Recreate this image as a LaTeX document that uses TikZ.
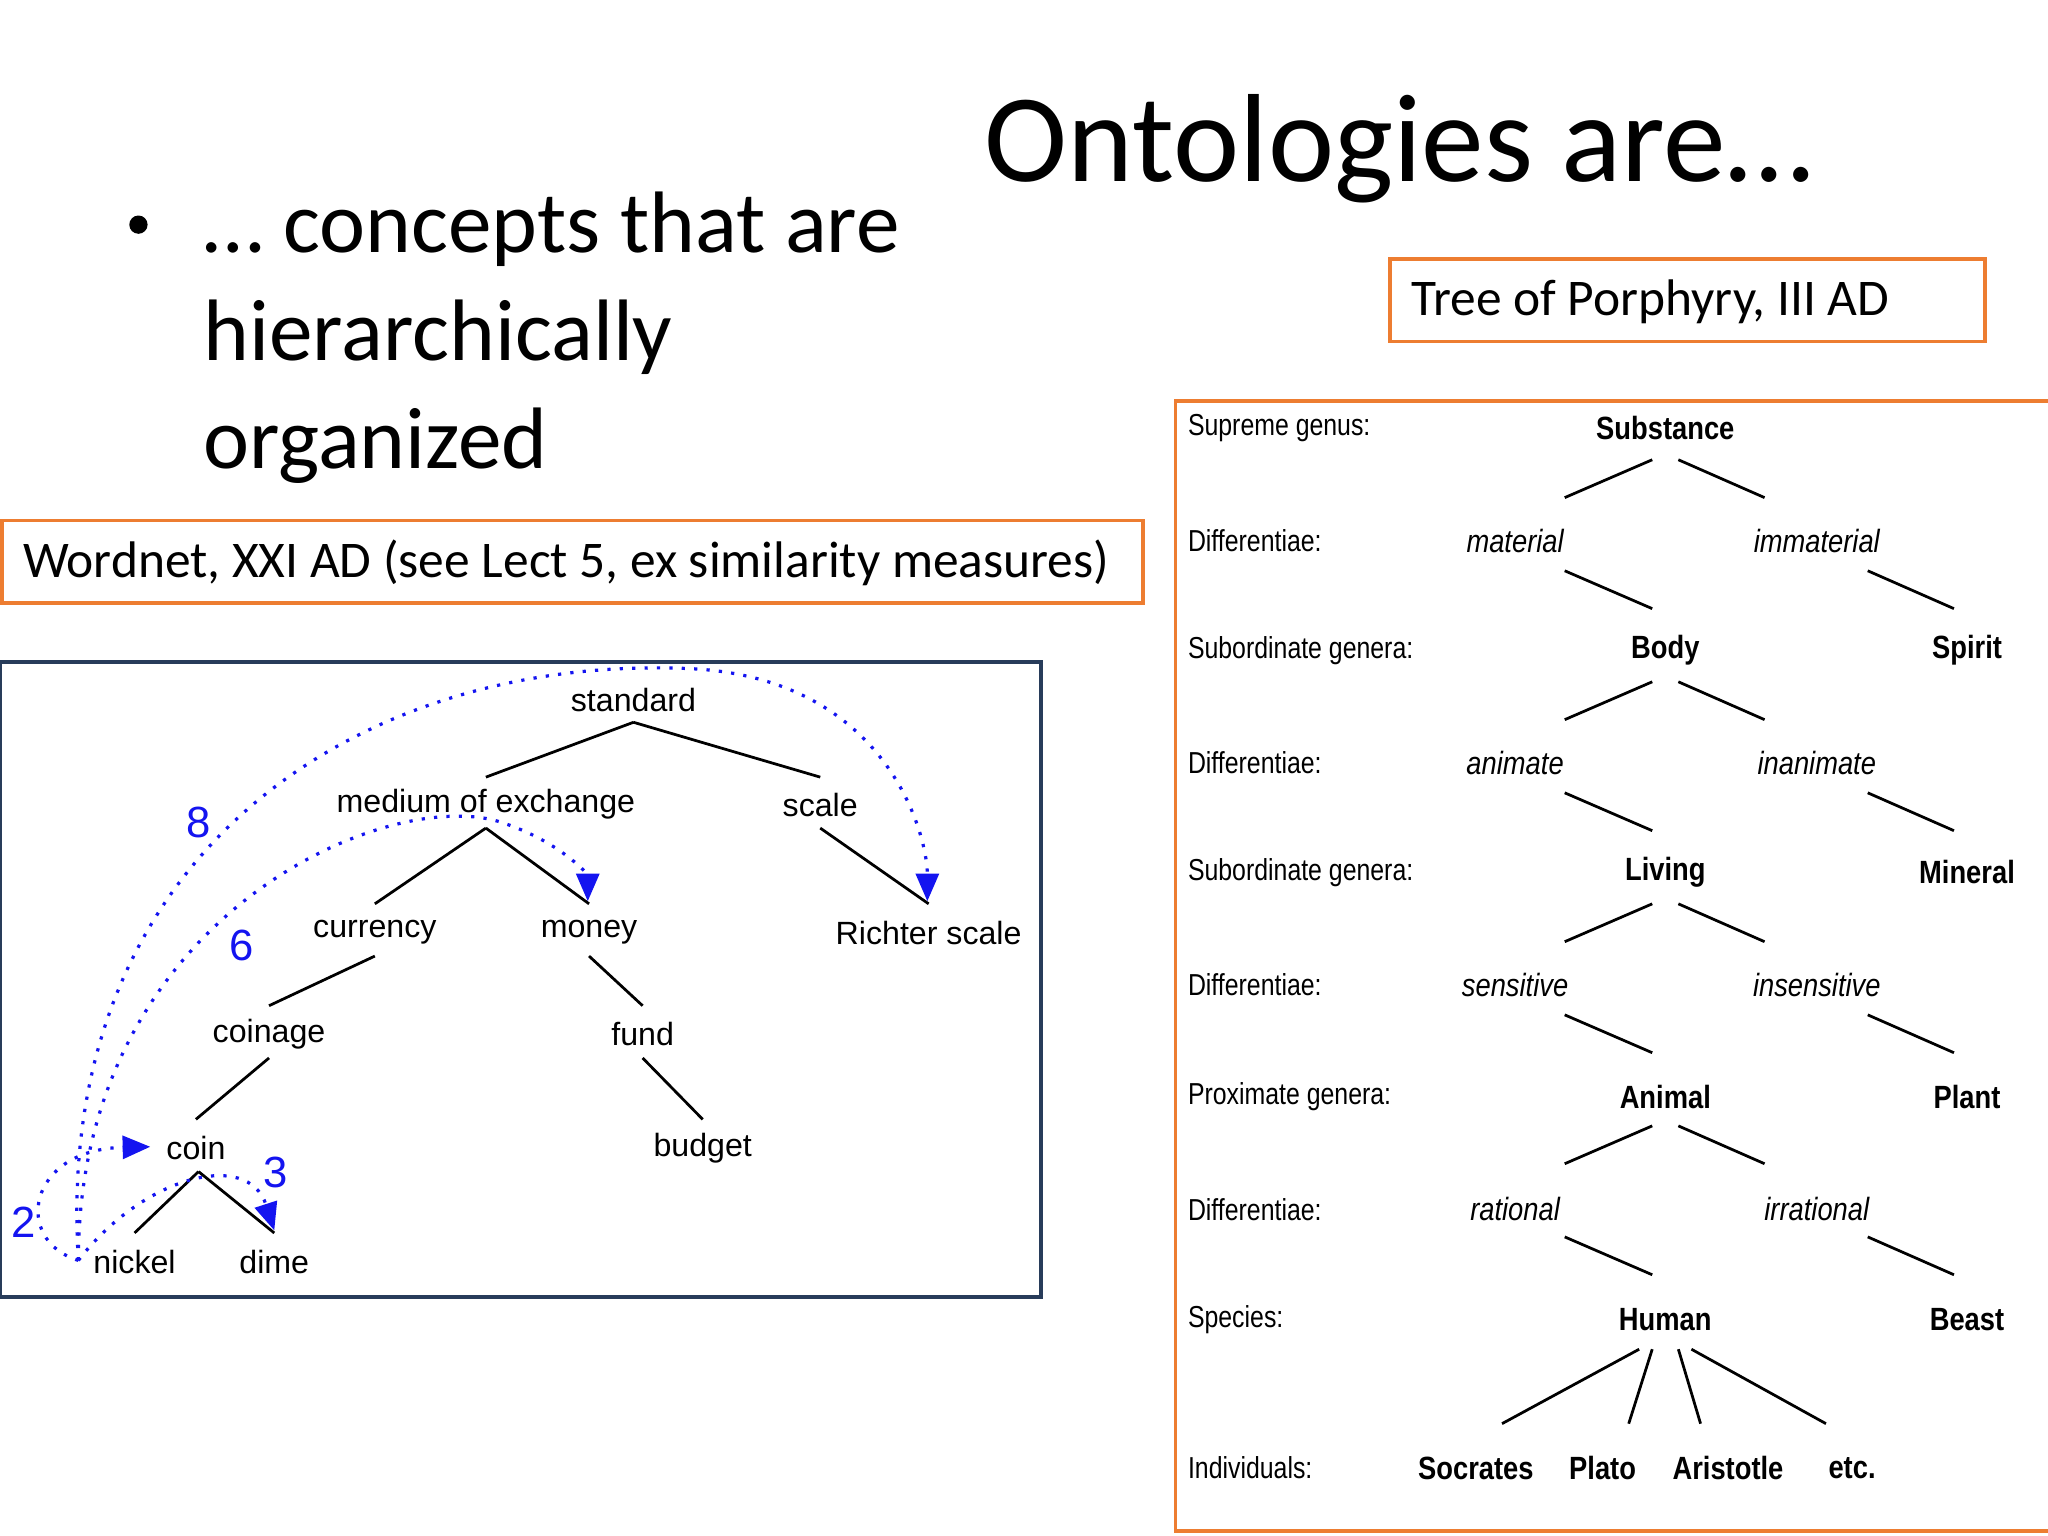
\documentclass[tikz,border=0pt]{standalone}
\usepackage{fontspec}
\setmainfont{Carlito}
\newfontfamily\arialf{Liberation Sans}
\usetikzlibrary{arrows.meta}
\definecolor{orng}{RGB}{237,125,49}
\definecolor{bblue}{RGB}{20,20,240}
\definecolor{frame}{RGB}{40,60,90}
\begin{document}
\begin{tikzpicture}[x=0.01cm,y=-0.01cm,
  wn/.style={font=\arialf\fontsize{7}{8}\selectfont,inner sep=1pt},
  pl/.style={font=\arialf\fontsize{6.6}{8}\selectfont,anchor=west,inner sep=0pt,xscale=0.82},
  pc/.style={font=\arialf\bfseries\fontsize{7}{8}\selectfont,inner sep=0pt,xscale=0.85},
  pi/.style={font=\arialf\itshape\fontsize{7}{8}\selectfont,inner sep=0pt,xscale=0.85},
  br/.style={line width=0.6pt},
  bl/.style={bblue,dotted,line width=0.7pt,-{Triangle[length=6pt,width=5pt]}},
  num/.style={bblue,font=\arialf\fontsize{9.5}{10}\selectfont,inner sep=0pt}]
\useasboundingbox (0,0) rectangle (1568,1176);
\fill[white] (0,0) rectangle (1568,1176);
% titles
\node[font=\fontsize{27.3}{30}\selectfont,inner sep=0pt] (title) at (1071,114) {Ontologies are…};
\node[font=\fontsize{19}{23.5}\selectfont,anchor=north west,align=left,inner sep=0pt] (bul) at (155,146) {… concepts that are\\hierarchically\\organized};
\fill (106,172) circle (7);
% labels
\node[draw=orng,line width=0.8pt,minimum width=4.55cm,minimum height=0.63cm,anchor=north west,inner sep=0pt] (tpbox) at (1063,197) {};
\node[font=\fontsize{11.2}{12}\selectfont,anchor=west,inner sep=0pt] (tp) at (1080,231) {Tree of Porphyry, III AD};
\node[draw=orng,line width=0.8pt,minimum width=8.73cm,minimum height=0.63cm,anchor=north west,inner sep=0pt] (wnbox) at (0,397) {};
\node[font=\fontsize{11.2}{12}\selectfont,anchor=west,inner sep=0pt] (wnl) at (17,431) {Wordnet, XXI AD (see Lect 5, ex similarity measures)};
% wordnet
\draw[frame,line width=0.8pt] (0,507) rectangle (797,993);
\node[wn] (standard) at (485,536) {standard};
\node[wn] (medium) at (372,616) {medium of exchange};
\node[wn] (scale) at (628,616) {scale};
\node[wn] (currency) at (287,714) {currency};
\node[wn] (money) at (451,714) {money};
\node[wn] (richter) at (711,714) {Richter scale};
\node[wn] (coinage) at (206,792) {coinage};
\node[wn] (fund) at (492,792) {fund};
\node[wn] (budget) at (538,879) {budget};
\node[wn] (coin) at (150,879) {coin};
\node[wn] (nickel) at (103,966) {nickel};
\node[wn] (dime) at (210,966) {dime};
\draw[br] (485,553) -- (372,595) (485,553) -- (628,595);
\draw[br] (372,634) -- (287,692) (372,634) -- (451,692);
\draw[br] (628,634) -- (711,692);
\draw[br] (287,732) -- (206,770);
\draw[br] (451,732) -- (492,770);
\draw[br] (206,810) -- (150,857);
\draw[br] (492,810) -- (538,857);
\draw[br] (152,897) -- (103,944) (152,897) -- (210,944);
\coordinate (src) at (60,965);
\draw[bl] (src) .. controls (10,950) and (20,880) .. (115,878);
\draw[bl] (src) .. controls (110,900) and (190,880) .. (210,942);
\draw[bl] (src) .. controls (60,700) and (300,600) .. (385,630) .. controls (430,645) and (450,670) .. (450,690);
\draw[bl] (src) .. controls (40,650) and (280,500) .. (530,512) .. controls (680,520) and (710,640) .. (710,690);
\node[num] (n2) at (18,936) {2};
\node[num] (n3) at (211,898) {3};
\node[num] (n6) at (185,724) {6};
\node[num] (n8) at (152,630) {8};
% porphyry
\draw[orng,line width=0.8pt] (1568,307) -- (900,307) -- (900,1172) -- (1568,1172);
\foreach \t/\y in {Supreme genus:/328,Differentiae:/414,Subordinate genera:/498,Differentiae:/584,Subordinate genera:/668,Differentiae:/754,Proximate genera:/840,Differentiae:/926,Species:/1010,Individuals:/1124}{
  \node[pl] at (909,\y) {\t};}
\node[pc] (subst) at (1275,328) {Substance};
\node[pi] (mat) at (1160,414) {material};
\node[pi] (immat) at (1391,414) {immaterial};
\node[pc] (body) at (1275,498) {Body};
\node[pc] (spirit) at (1506,498) {Spirit};
\node[pi] (anim) at (1160,584) {animate};
\node[pi] (inan) at (1391,584) {inanimate};
\node[pc] (living) at (1275,668) {Living};
\node[pc] (mineral) at (1506,668) {Mineral};
\node[pi] (sens) at (1160,754) {sensitive};
\node[pi] (insens) at (1391,754) {insensitive};
\node[pc] (animal) at (1275,840) {Animal};
\node[pc] (plant) at (1506,840) {Plant};
\node[pi] (rat) at (1160,926) {rational};
\node[pi] (irrat) at (1391,926) {irrational};
\node[pc] (human) at (1275,1010) {Human};
\node[pc] (beast) at (1506,1010) {Beast};
\node[pc] (socr) at (1130,1124) {Socrates};
\node[pc] (plato) at (1227,1124) {Plato};
\node[pc] (arist) at (1323,1124) {Aristotle};
\node[pc] (etc) at (1418,1124) {etc.};
\foreach \d in {0,170,340,510}{
  \draw[br] (1265,352+\d) -- (1198,381+\d) (1285,352+\d) -- (1351,381+\d);
  \draw[br] (1198,437+\d) -- (1265,466+\d) (1430,437+\d) -- (1496,466+\d);}
\draw[br] (1255,1033) -- (1150,1090) (1265,1033) -- (1247,1090) (1285,1033) -- (1302,1090) (1295,1033) -- (1398,1090);
\end{tikzpicture}
\end{document}
